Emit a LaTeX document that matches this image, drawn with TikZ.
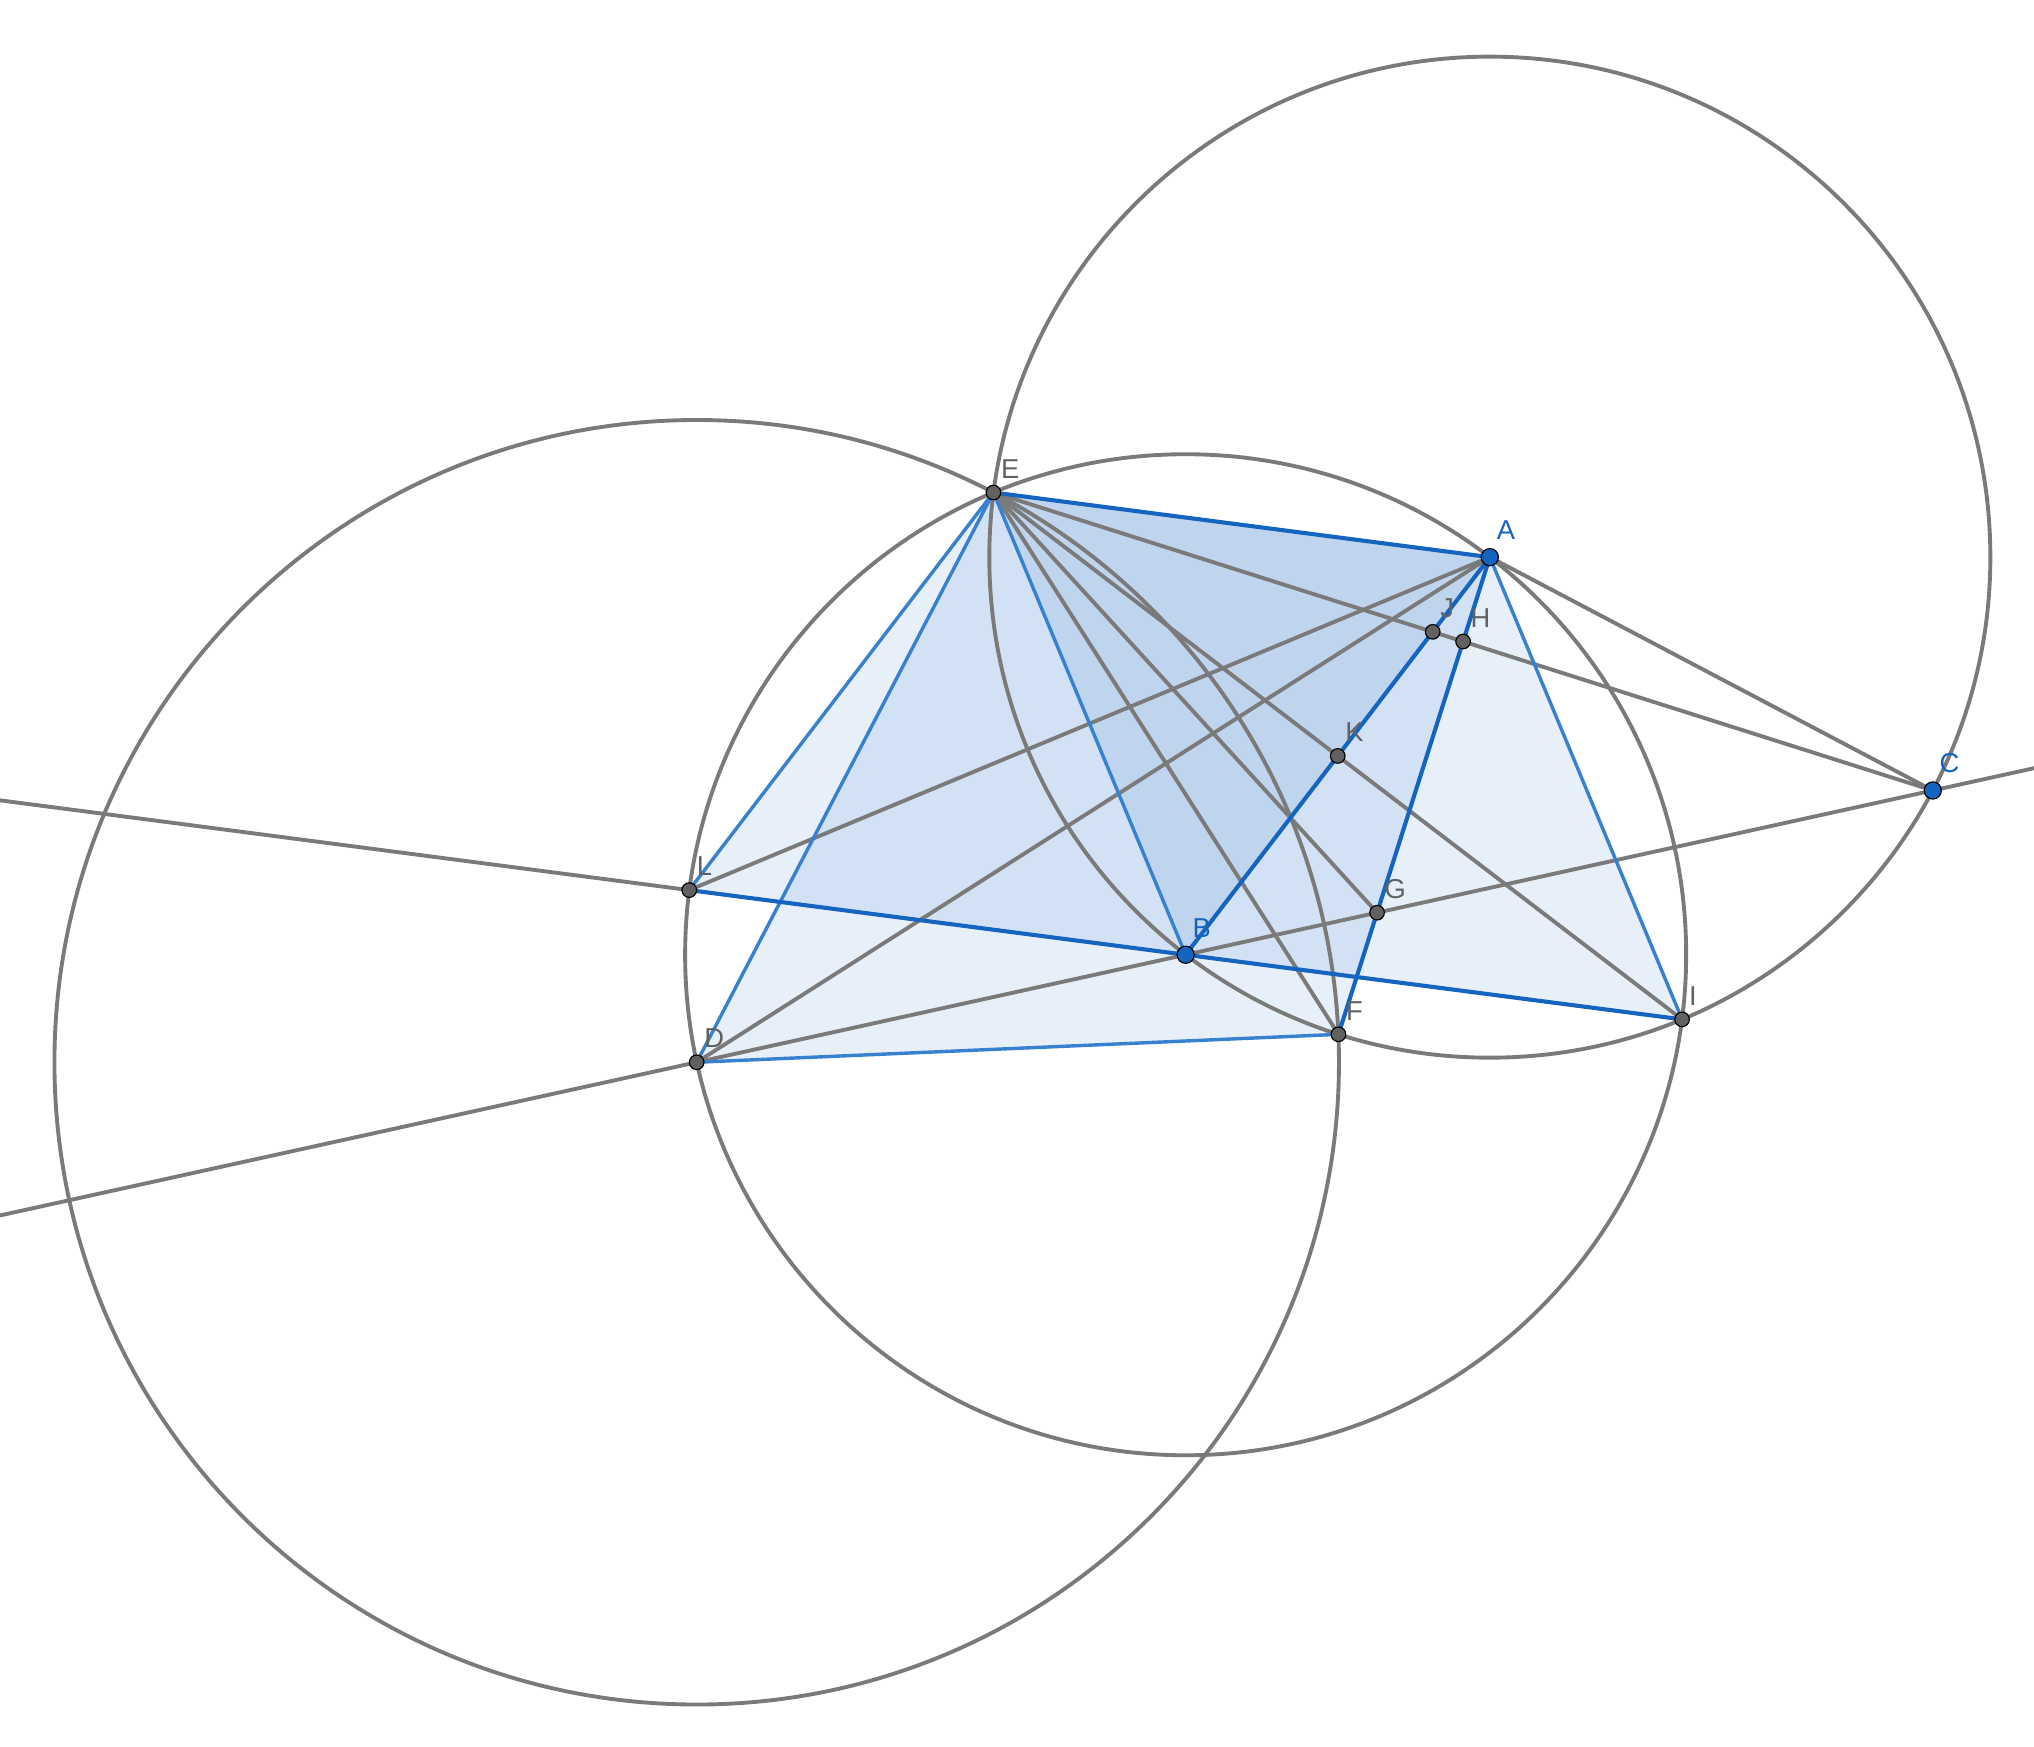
\documentclass[tikz,border=0pt]{standalone}
\usepackage{fontspec}
\setmainfont{Liberation Sans}
\usetikzlibrary{calc}
\definecolor{ggray}{RGB}{122,122,122}
\definecolor{lgray}{RGB}{97,97,97}
\definecolor{dblue}{RGB}{21,101,192}
\definecolor{lblue}{RGB}{56,128,208}
\begin{document}
\begin{tikzpicture}[x=0.02cm,y=-0.02cm,
  gline/.style={draw=ggray,line width=1.7pt},
  dseg/.style={draw=dblue,line width=1.8pt},
  lseg/.style={draw=lblue,line width=1.5pt},
  poly/.style={fill=dblue,fill opacity=0.1},
  gpt/.style={circle,inner sep=0pt,minimum size=0.225cm,fill=lgray,draw=black,line width=0.5pt},
  bpt/.style={circle,inner sep=0pt,minimum size=0.265cm,fill=dblue,draw=black,line width=0.5pt},
  lbl/.style={anchor=base west,inner sep=0pt,font=\fontsize{12}{14}\selectfont}]
\useasboundingbox (0,0) rectangle (1568,1346);
\clip (0,0) rectangle (1568,1346);
% geometry
\coordinate (A) at (1148.5,429.5);
\coordinate (B) at (914,736);
\coordinate (C) at (1489.95,609.36);
\coordinate (D) at (537.08,818.88);
\coordinate (E) at (765.81,379.66);
\coordinate (F) at (1031.81,797.36);
\coordinate (G) at (1061.57,703.56);
\coordinate (H) at (1127.88,494.51);
\coordinate (I) at (1296.69,785.84);
\coordinate (J) at (1104.45,487.08);
\coordinate (K) at (1031.25,582.75);
\coordinate (L) at (531.31,686.16);
\coordinate (Lend) at ($(I)!1.8!(L)$);
\coordinate (BCa) at ($(B)!-1.7!(C)$);
\coordinate (BCb) at ($(B)!1.2!(C)$);
% polygons
\path[poly] (E) -- (L) -- (I) -- (A) -- cycle;
\path[poly] (E) -- (D) -- (F) -- (A) -- cycle;
\path[poly] (E) -- (B) -- (A) -- cycle;
% circles
\draw[gline] (D) circle[radius=9.9042cm];
\draw[gline] (B) circle[radius=7.7184cm];
\draw[gline] (A) circle[radius=7.7184cm];
% gray lines
\draw[gline] (BCa) -- (BCb);
\draw[gline] (L) -- (Lend);
\draw[gline] (E) -- (C);
\draw[gline] (A) -- (C);
\draw[gline] (A) -- (L);
\draw[gline] (A) -- (D);
\draw[gline] (E) -- (G);
\draw[gline] (E) -- (F);
\draw[gline] (E) -- (I);
% blue segments
\draw[lseg] (E) -- (L);
\draw[lseg] (E) -- (D);
\draw[lseg] (E) -- (B);
\draw[lseg] (A) -- (I);
\draw[lseg] (D) -- (F);
\draw[dseg] (E) -- (A);
\draw[dseg] (A) -- (B);
\draw[dseg] (L) -- (I);
\draw[dseg] (A) -- (F);
% points
\node[gpt] (pE) at (E) {};
\node[gpt] (pD) at (D) {};
\node[gpt] (pF) at (F) {};
\node[gpt] (pG) at (G) {};
\node[gpt] (pH) at (H) {};
\node[gpt] (pI) at (I) {};
\node[gpt] (pJ) at (J) {};
\node[gpt] (pK) at (K) {};
\node[gpt] (pL) at (L) {};
\node[bpt] (pA) at (A) {};
\node[bpt] (pB) at (B) {};
\node[bpt] (pC) at (C) {};
% labels
\node[lbl,text=lgray] (tE) at ($(E)+(5.5,-11)$) {E};
\node[lbl,text=lgray] (tD) at ($(D)+(5.5,-11)$) {D};
\node[lbl,text=lgray] (tF) at ($(F)+(5.5,-11)$) {F};
\node[lbl,text=lgray] (tG) at ($(G)+(5.5,-11)$) {G};
\node[lbl,text=lgray] (tH) at ($(H)+(5.5,-11)$) {H};
\node[lbl,text=lgray] (tI) at ($(I)+(5,-11)$) {I};
\node[lbl,text=lgray] (tJ) at ($(J)+(5.5,-11)$) {J};
\node[lbl,text=lgray] (tK) at ($(K)+(5.5,-11)$) {K};
\node[lbl,text=lgray] (tL) at ($(L)+(5.5,-11)$) {L};
\node[lbl,text=dblue] (tA) at ($(A)+(5,-13.5)$) {A};
\node[lbl,text=dblue] (tB) at ($(B)+(5,-13.5)$) {B};
\node[lbl,text=dblue] (tC) at ($(C)+(5,-13.5)$) {C};
\end{tikzpicture}
\end{document}
